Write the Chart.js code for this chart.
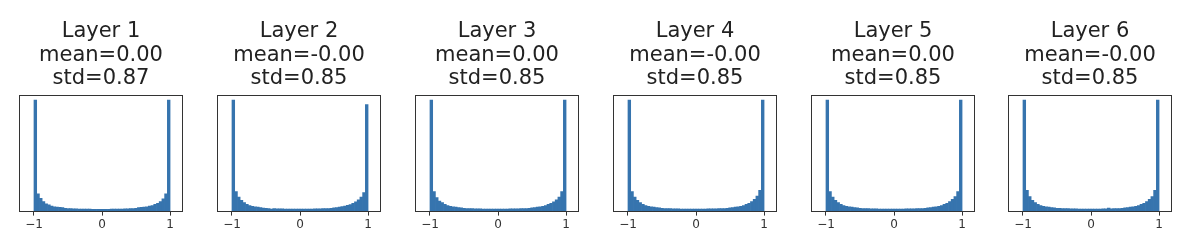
<!DOCTYPE html>
<html>
<head>
<meta charset="utf-8">
<script src="https://cdn.jsdelivr.net/npm/chart.js@4.4.1/dist/chart.umd.min.js"></script>
<style>
  html, body { margin: 0; padding: 0; background: #ffffff; }
  #wrap { position: relative; width: 1200px; height: 247px; overflow: hidden; }
  .cell { position: absolute; top: 0; width: 198px; height: 247px; }
</style>
</head>
<body>
<div id="wrap"></div>
<script>
// ---- data ----
const layerNames = ["Layer 1", "Layer 2", "Layer 3", "Layer 4", "Layer 5", "Layer 6"];
const layerMeans = ["0.00", "-0.00", "0.00", "-0.00", "0.00", "-0.00"];
const layerStds = ["0.87", "0.85", "0.85", "0.85", "0.85", "0.85"];
const xTicks = [-1, 0, 1];
// bin centres: 50 bins of width 0.04 spanning [-1, 1]
const binCenters = [
  -0.98, -0.94, -0.90, -0.86, -0.82, -0.78, -0.74, -0.70, -0.66, -0.62,
  -0.58, -0.54, -0.50, -0.46, -0.42, -0.38, -0.34, -0.30, -0.26, -0.22,
  -0.18, -0.14, -0.10, -0.06, -0.02, 0.02, 0.06, 0.10, 0.14, 0.18,
  0.22, 0.26, 0.30, 0.34, 0.38, 0.42, 0.46, 0.50, 0.54, 0.58,
  0.62, 0.66, 0.70, 0.74, 0.78, 0.82, 0.86, 0.90, 0.94, 0.98
];
// relative counts (peak = 100)
const layer1 = [
  100, 16, 12, 9, 7, 6, 5, 4.3, 4, 3.8, 3.5, 3, 2.8, 2.6, 2.5, 2.4, 2.3, 2.3, 2.2, 2.2, 2.2, 2.1, 2.1, 2.1, 2.1,
  2.1, 2.1, 2.1, 2.2, 2.2, 2.2, 2.3, 2.3, 2.4, 2.5, 2.6, 2.8, 3, 3.5, 3.8, 4, 4.3, 5, 5.5, 6.5, 7.5, 9, 11.5, 16, 100
];
const layer2 = [
  100, 18, 13, 10, 8, 6.5, 5.5, 4.8, 4.3, 4, 3.6, 3.2, 3, 2.8, 2.3, 2.6, 2.5, 2.4, 2.4, 2.3, 2.3, 2.3, 2.3, 2.2, 2.2,
  2.2, 2.2, 2.3, 2.3, 2.3, 2.4, 2.4, 2.5, 2.6, 2.7, 2.8, 3, 3.3, 3.6, 4, 4.4, 5, 5.6, 6.4, 7.5, 8.8, 10.5, 13, 17, 96
];
const layer3 = [
  100, 18, 12.5, 9.5, 8, 6.5, 5.5, 4.8, 4.3, 4, 3.6, 3.3, 3, 2.8, 2.7, 2.6, 2.5, 2.4, 2.4, 2.3, 2.3, 2.3, 2.3, 2.3, 2.3,
  2.3, 2.3, 2.3, 2.3, 2.4, 2.4, 2.4, 2.5, 2.6, 2.7, 2.8, 3, 3.3, 3.6, 4, 4.3, 4.8, 5.5, 6.5, 7.5, 8.8, 10.5, 13, 18, 100
];
const layer4 = [
  100, 18, 13, 10, 8, 6.5, 5.5, 4.8, 4.3, 4, 3.6, 3.3, 3, 2.8, 2.7, 2.6, 2.5, 2.4, 2.4, 2.3, 2.3, 2.3, 2.3, 2.3, 2.3,
  2.3, 2.3, 2.3, 2.3, 2.4, 2.4, 2.4, 2.5, 2.6, 2.7, 2.8, 3, 3.3, 3.6, 4, 4.3, 4.8, 5.5, 6.5, 7.5, 9, 11, 14, 19, 100
];
const layer5 = [
  100, 18, 13, 10, 8, 6.5, 5.5, 4.8, 4.3, 4, 3.6, 3.3, 3, 2.8, 2.7, 2.6, 2.5, 2.4, 2.4, 2.3, 2.3, 2.3, 2.3, 2.3, 2.3,
  2.3, 2.3, 2.3, 2.3, 2.4, 2.4, 2.4, 2.5, 2.6, 2.7, 2.8, 3, 3.3, 3.6, 4, 4.3, 4.8, 5.5, 6.5, 7.5, 9, 11, 13.5, 18, 100
];
const layer6 = [
  100, 19, 13.5, 10, 8, 6.5, 5.5, 4.8, 4.3, 4, 3.6, 3.3, 3, 2.9, 2.8, 2.7, 2.6, 2.5, 2.4, 2.4, 2.3, 2.3, 2.3, 2.3, 2.3,
  2.3, 2.3, 2.3, 2.3, 2.4, 2.4, 3.2, 2.5, 2.6, 2.7, 2.8, 3, 3.3, 3.6, 4, 4.3, 4.8, 5.5, 6.5, 7.5, 9, 11, 13.5, 19, 100
];
const layerCounts = [layer1, layer2, layer3, layer4, layer5, layer6];
const cellLefts = [0, 198, 396, 594, 792, 989];

const barColor = '#3674ae';
const frameColor = '#333333';

const framePlugin = {
  id: 'frame',
  afterDraw(chart) {
    const a = chart.chartArea;
    const ctx = chart.ctx;
    ctx.save();
    ctx.strokeStyle = frameColor;
    ctx.lineWidth = 1;
    ctx.strokeRect(Math.round(a.left) + 0.5, Math.round(a.top) + 0.5,
                   Math.round(a.right - a.left) - 1, Math.round(a.bottom - a.top) - 1);
    ctx.restore();
  }
};

const wrap = document.getElementById('wrap');
layerNames.forEach((name, i) => {
  const cell = document.createElement('div');
  cell.className = 'cell';
  cell.style.left = cellLefts[i] + 'px';
  const cv = document.createElement('canvas');
  cell.appendChild(cv);
  wrap.appendChild(cell);

  const points = binCenters.map((x, k) => ({ x: x, y: layerCounts[i][k] }));
  new Chart(cv, {
    type: 'bar',
    data: {
      datasets: [{
        data: points,
        backgroundColor: barColor,
        borderWidth: 0,
        barPercentage: 1.0,
        categoryPercentage: 1.0
      }]
    },
    options: {
      responsive: true,
      maintainAspectRatio: false,
      animation: false,
      layout: { padding: { left: 19, right: 15, top: 0, bottom: 13 } },
      plugins: {
        legend: { display: false },
        tooltip: { enabled: false },
        title: {
          display: true,
          text: [name, 'mean=' + layerMeans[i], 'std=' + layerStds[i]],
          color: '#222222',
          font: { family: 'DejaVu Sans', size: 21, weight: 'normal', lineHeight: 1.12 },
          padding: { top: 20, bottom: 4 }
        }
      },
      scales: {
        x: {
          type: 'linear',
          min: -1.22,
          max: 1.19,
          offset: false,
          afterBuildTicks(axis) { axis.ticks = xTicks.map(v => ({ value: v })); },
          ticks: {
            color: '#333333',
            font: { family: 'DejaVu Sans', size: 12 },
            padding: 2,
            maxRotation: 0,
            callback: v => (v < 0 ? '\u2212' + Math.abs(v) : String(v))
          },
          grid: { display: true, offset: false, drawOnChartArea: false, drawTicks: true, tickLength: 4, color: frameColor },
          border: { display: false }
        },
        y: {
          display: false,
          min: 0,
          max: 105
        }
      }
    },
    plugins: [framePlugin]
  });
});
</script>
</body>
</html>
